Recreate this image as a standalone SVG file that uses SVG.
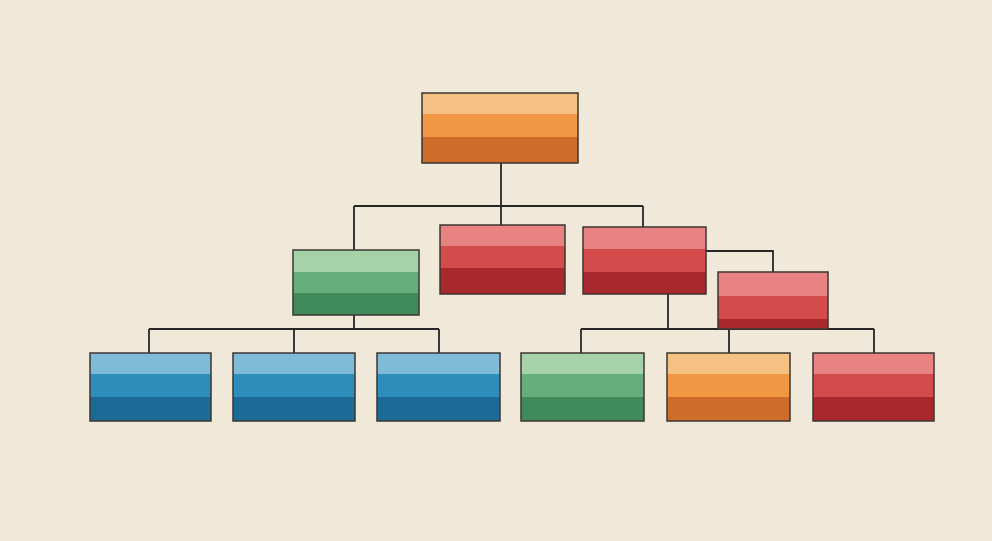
<svg xmlns="http://www.w3.org/2000/svg" width="992" height="541" viewBox="0 0 992 541">
<style>
.c{fill:none;stroke:#262626;stroke-width:1.8}
.o1{fill:#f5c183}.o2{fill:#ef9743}.o3{fill:#cd6c2b}
.r1{fill:#e98383}.r2{fill:#d44b4c}.r3{fill:#a8292d}
.g1{fill:#a5d2a9}.g2{fill:#67ae7d}.g3{fill:#408a5c}
.b1{fill:#7fbbd7}.b2{fill:#2f8dba}.b3{fill:#1c6b96}
.bd{fill:none;stroke:#3b3632;stroke-width:1.5}
</style>
<rect width="992" height="541" fill="#f0e9d9"/>
<g id="connectors">
<path class="c" d="M501 163V206M354 206H643M354 206V250M501 206V225M643 206V227"/>
<path class="c" d="M706 251H773V272"/>
<path class="c" d="M354 315V329M149 329H439M149 329V353M294 329V353M439 329V353"/>
<path class="c" d="M668 294V329M581 329H874M581 329V353M729 329V353M874 329V353"/>
</g>
<g id="root">
<rect class="o1" x="422" y="93" width="156" height="21"/><rect class="o2" x="422" y="114" width="156" height="23"/><rect class="o3" x="422" y="137" width="156" height="26"/>
<rect class="bd" x="422" y="93" width="156" height="70"/>
</g>
<g id="l1-green">
<rect class="g1" x="293" y="250" width="126" height="22"/><rect class="g2" x="293" y="272" width="126" height="21"/><rect class="g3" x="293" y="293" width="126" height="22"/>
<rect class="bd" x="293" y="250" width="126" height="65"/>
</g>
<g id="l1-red-mid">
<rect class="r1" x="440" y="225" width="125" height="21"/><rect class="r2" x="440" y="246" width="125" height="22"/><rect class="r3" x="440" y="268" width="125" height="26"/>
<rect class="bd" x="440" y="225" width="125" height="69"/>
</g>
<g id="l1-red-right">
<rect class="r1" x="583" y="227" width="123" height="22"/><rect class="r2" x="583" y="249" width="123" height="23"/><rect class="r3" x="583" y="272" width="123" height="22"/>
<rect class="bd" x="583" y="227" width="123" height="67"/>
</g>
<g id="l2-red">
<rect class="r1" x="718" y="272" width="110" height="24"/><rect class="r2" x="718" y="296" width="110" height="23"/><rect class="r3" x="718" y="319" width="110" height="10"/>
<rect class="bd" x="718" y="272" width="110" height="57"/>
</g>
<g id="blue-1">
<rect class="b1" x="90" y="353" width="121" height="21"/><rect class="b2" x="90" y="374" width="121" height="23"/><rect class="b3" x="90" y="397" width="121" height="24"/>
<rect class="bd" x="90" y="353" width="121" height="68"/>
</g>
<g id="blue-2">
<rect class="b1" x="233" y="353" width="122" height="21"/><rect class="b2" x="233" y="374" width="122" height="23"/><rect class="b3" x="233" y="397" width="122" height="24"/>
<rect class="bd" x="233" y="353" width="122" height="68"/>
</g>
<g id="blue-3">
<rect class="b1" x="377" y="353" width="123" height="21"/><rect class="b2" x="377" y="374" width="123" height="23"/><rect class="b3" x="377" y="397" width="123" height="24"/>
<rect class="bd" x="377" y="353" width="123" height="68"/>
</g>
<g id="green-2">
<rect class="g1" x="521" y="353" width="123" height="21"/><rect class="g2" x="521" y="374" width="123" height="23"/><rect class="g3" x="521" y="397" width="123" height="24"/>
<rect class="bd" x="521" y="353" width="123" height="68"/>
</g>
<g id="orange-2">
<rect class="o1" x="667" y="353" width="123" height="21"/><rect class="o2" x="667" y="374" width="123" height="23"/><rect class="o3" x="667" y="397" width="123" height="24"/>
<rect class="bd" x="667" y="353" width="123" height="68"/>
</g>
<g id="red-2">
<rect class="r1" x="813" y="353" width="121" height="21"/><rect class="r2" x="813" y="374" width="121" height="23"/><rect class="r3" x="813" y="397" width="121" height="24"/>
<rect class="bd" x="813" y="353" width="121" height="68"/>
</g>
</svg>
